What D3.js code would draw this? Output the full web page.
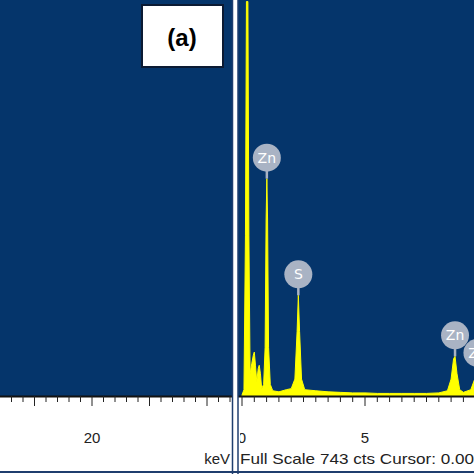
<!DOCTYPE html>
<html><head><meta charset="utf-8">
<script src="https://cdn.jsdelivr.net/npm/d3@7"></script>
<style>body{margin:0;background:#fff}svg{display:block}</style>
</head><body>
<script>
// spectrum points [keV, counts] (right panel)
const spectrum = [
 [0.00,0],[0.08,10],[0.14,300],[0.18,742],[0.24,742],[0.28,300],[0.33,40],
 [0.40,60],[0.46,75],[0.50,81],[0.55,55],[0.60,25],[0.66,50],[0.70,56],[0.75,40],[0.80,12],
 [0.88,20],[0.94,90],[0.98,330],[1.01,408],[1.04,330],[1.08,90],[1.15,20],[1.25,8],
 [1.5,6],[1.8,10],[2.0,12],[2.15,30],[2.24,120],[2.29,188],[2.34,120],[2.42,30],[2.55,10],
 [3.0,8],[3.5,6],[4.0,5],[4.5,4],[5.0,4],[5.5,3],[6.0,3],[6.5,3],[7.0,3],[7.5,3],[8.0,4],
 [8.35,8],[8.50,30],[8.60,68],[8.66,73],[8.74,40],[8.85,10],[9.0,5],[9.3,10],[9.5,35],[9.6,40]
];
const peakLabels = [
 {el:"Zn", kev:1.01, counts:408},
 {el:"S", kev:2.29, counts:188},
 {el:"Zn", kev:8.66, counts:73},
 {el:"Zn", kev:9.57, counts:40}
];
const leftTicks = d3.range(12, 33, 1);
const leftLabels = [20];
const rightTicks = d3.range(0, 10.5, 0.5);
const rightLabels = [0, 5];
const fullScale = 743;

const W=474,H=474, plotBottom=396, blue="#05356b";
const svg=d3.select("body").append("svg").attr("width",W).attr("height",H);
svg.append("rect").attr("width",W).attr("height",H).attr("fill","#fff");

// left panel
const xL=d3.scale?null:d3.scaleLinear().domain([12,32]).range([-0,230]);
const xLeft=d3.scaleLinear().domain([20,30]).range([92,207]);
svg.append("rect").attr("x",0).attr("y",0).attr("width",232).attr("height",plotBottom).attr("fill",blue);
// right panel
const xRight=d3.scaleLinear().domain([0,5]).range([242,365]);
const y=d3.scaleLinear().domain([0,fullScale]).range([plotBottom-1,1]);
svg.append("rect").attr("x",238).attr("y",0).attr("width",W-238).attr("height",plotBottom).attr("fill",blue);

const clip=svg.append("clipPath").attr("id","rc").append("rect").attr("x",238).attr("y",0).attr("width",W-238).attr("height",plotBottom);
svg.append("path").datum(spectrum).attr("clip-path","url(#rc)")
 .attr("d",d3.area().x(d=>xRight(d[0])).y0(plotBottom).y1(d=>y(d[1])))
 .attr("fill","#ffff00").attr("stroke","#ffff00").attr("stroke-width",1);

// peak labels
const lg=svg.append("g").attr("clip-path","url(#rc)");
peakLabels.forEach(p=>{
  const cx=xRight(p.kev), top=y(p.counts), cy=top-21;
  lg.append("line").attr("x1",cx).attr("x2",cx).attr("y1",cy).attr("y2",top).attr("stroke","#a9b3c4").attr("stroke-width",2.5);
  lg.append("circle").attr("cx",cx).attr("cy",cy).attr("r",14).attr("fill","#a9b3c4");
  lg.append("text").attr("x",cx).attr("y",cy+5).attr("text-anchor","middle").attr("fill","#fff")
   .attr("font-family","DejaVu Sans").attr("font-size",14).text(p.el);
});

// (a) box
svg.append("rect").attr("x",142).attr("y",5).attr("width",81).attr("height",62).attr("fill","#fff").attr("stroke","#0b1a33").attr("stroke-width",2);
svg.append("text").attr("x",182).attr("y",46).attr("text-anchor","middle").attr("font-family","Liberation Sans, Arial").attr("font-weight","bold").attr("font-size",24).text("(a)");

// axes lines
svg.append("line").attr("x1",0).attr("x2",232).attr("y1",plotBottom+0.5).attr("y2",plotBottom+0.5).attr("stroke","#111").attr("stroke-width",2);
svg.append("line").attr("x1",238).attr("x2",W).attr("y1",plotBottom+0.5).attr("y2",plotBottom+0.5).attr("stroke","#111").attr("stroke-width",2);
svg.append("line").attr("x1",232.5).attr("x2",232.5).attr("y1",0).attr("y2",H).attr("stroke","#1f3e6e").attr("stroke-width",1.5);
svg.append("line").attr("x1",238).attr("x2",238).attr("y1",0).attr("y2",H).attr("stroke","#1f3e6e").attr("stroke-width",1.5);
svg.append("line").attr("x1",0).attr("x2",W).attr("y1",472).attr("y2",472).attr("stroke","#1f3e6e").attr("stroke-width",2);

const ga=svg.append("g").attr("font-family","Liberation Sans, Arial").attr("font-size",15).attr("fill","#222");
leftTicks.forEach(t=>{const x=xLeft(t); if(x<1||x>230)return;
  ga.append("line").attr("x1",x).attr("x2",x).attr("y1",plotBottom).attr("y2",plotBottom+(t%5===0?10:6)).attr("stroke","#222");});
leftLabels.forEach(t=>ga.append("text").attr("x",xLeft(t)).attr("y",443).attr("text-anchor","middle").text(t));
rightTicks.forEach(t=>{const x=xRight(t); if(x>W)return;
  ga.append("line").attr("x1",x).attr("x2",x).attr("y1",plotBottom).attr("y2",plotBottom+(t%5===0?10:6)).attr("stroke","#222");});
const rg=ga.append("g").attr("clip-path","url(#rc2)");
svg.append("clipPath").attr("id","rc2").append("rect").attr("x",240).attr("y",0).attr("width",W).attr("height",H);
rightLabels.forEach(t=>rg.append("text").attr("x",xRight(t)).attr("y",443).attr("text-anchor","middle").text(t));
ga.append("text").attr("x",230).attr("y",464).attr("text-anchor","end").text("keV");
rg.append("text").attr("x",240).attr("y",464).attr("textLength",234).attr("lengthAdjust","spacingAndGlyphs").text("Full Scale "+fullScale+" cts Cursor: 0.00");
</script>
</body></html>
